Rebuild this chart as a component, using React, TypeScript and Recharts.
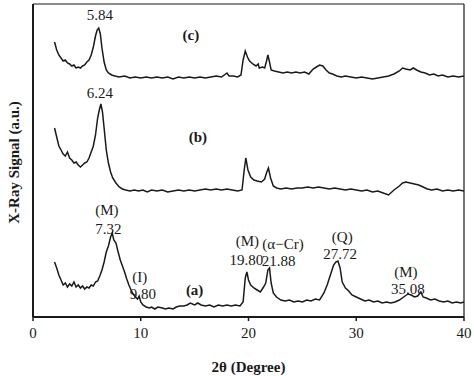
import { LineChart, Line, XAxis, YAxis, ReferenceDot, ReferenceLine, Label } from "recharts";

// 2θ (deg), signal (a.u.)
const traceA: [number, number][] = [
  [2.0, 55], [2.2, 49], [2.4, 42], [2.6, 37], [2.8, 32], [3.0, 34], [3.2, 30], [3.4, 33], [3.6, 31], [3.8, 35],
  [4.0, 30], [4.2, 32], [4.4, 29], [4.6, 31], [4.8, 28], [5.0, 30], [5.2, 29], [5.4, 32], [5.6, 31], [5.8, 35],
  [6.0, 36], [6.2, 41], [6.4, 47], [6.6, 55], [6.8, 65], [7.0, 71], [7.2, 80], [7.35, 84], [7.5, 77], [7.7, 74],
  [7.9, 65], [8.1, 57], [8.3, 51], [8.5, 45], [8.7, 38], [8.9, 32], [9.1, 27], [9.3, 23], [9.5, 20], [9.7, 18],
  [9.85, 21], [10.0, 15], [10.2, 12], [10.5, 10], [10.8, 9], [11.0, 10], [11.3, 8], [11.6, 10], [12.0, 9], [12.3, 8],
  [12.6, 9], [13.0, 8], [13.3, 10], [13.6, 11], [14.0, 11], [14.3, 12], [14.6, 14], [15.0, 12], [15.3, 14], [15.6, 12],
  [16.0, 11], [16.4, 12], [16.8, 10], [17.2, 12], [17.6, 11], [18.0, 12], [18.4, 11], [18.8, 12], [19.2, 11], [19.5, 15],
  [19.7, 39], [19.85, 45], [20.0, 37], [20.2, 32], [20.5, 29], [20.8, 27], [21.1, 25], [21.4, 30], [21.6, 34], [21.8, 47],
  [21.95, 49], [22.1, 34], [22.3, 24], [22.6, 20], [23.0, 17], [23.4, 16], [23.8, 17], [24.2, 15], [24.6, 16], [25.0, 15],
  [25.4, 17], [25.8, 16], [26.2, 18], [26.6, 17], [27.0, 24], [27.3, 32], [27.6, 42], [27.9, 52], [28.1, 55], [28.3, 56],
  [28.5, 49], [28.7, 35], [29.0, 29], [29.3, 26], [29.6, 22], [30.0, 20], [30.4, 18], [30.8, 16], [31.2, 17], [31.6, 15],
  [32.0, 16], [32.4, 14], [32.8, 15], [33.2, 14], [33.6, 15], [34.0, 17], [34.4, 20], [34.8, 23], [35.1, 22], [35.4, 20],
  [35.7, 21], [36.0, 25], [36.2, 20], [36.5, 19], [36.9, 17], [37.3, 18], [37.7, 16], [38.1, 15], [38.5, 16], [38.9, 14],
  [39.3, 15], [39.7, 14], [40.0, 15],
];

const traceB: [number, number][] = [
  [2.0, 189], [2.2, 180], [2.4, 171], [2.6, 167], [2.8, 163], [3.0, 161], [3.2, 165], [3.4, 159], [3.6, 157], [3.8, 154],
  [4.0, 155], [4.2, 152], [4.4, 150], [4.6, 152], [4.8, 154], [5.0, 155], [5.2, 159], [5.4, 165], [5.6, 171], [5.8, 182],
  [6.0, 199], [6.15, 207], [6.3, 213], [6.45, 205], [6.6, 189], [6.8, 167], [7.0, 154], [7.2, 145], [7.4, 139], [7.7, 134],
  [8.0, 130], [8.3, 128], [8.6, 127], [9.0, 126], [9.4, 127], [9.8, 126], [10.2, 127], [10.6, 125], [11.0, 127], [11.5, 126],
  [12.0, 127], [12.5, 125], [13.0, 126], [13.5, 127], [14.0, 126], [14.5, 127], [15.0, 126], [15.5, 127], [16.0, 128], [16.5, 127],
  [17.0, 128], [17.5, 127], [18.0, 128], [18.5, 127], [19.0, 126], [19.4, 127], [19.6, 147], [19.75, 159], [19.95, 147], [20.2, 140],
  [20.5, 137], [20.8, 136], [21.2, 135], [21.5, 138], [21.7, 145], [21.85, 149], [22.05, 139], [22.3, 131], [22.6, 129], [23.0, 128],
  [23.5, 129], [24.0, 128], [24.5, 129], [25.0, 129], [25.5, 130], [26.0, 129], [26.5, 130], [27.0, 129], [27.5, 128], [28.0, 129],
  [28.5, 128], [29.0, 127], [29.5, 128], [30.0, 127], [30.5, 126], [31.0, 127], [31.5, 125], [32.0, 126], [32.5, 124], [33.0, 122],
  [33.5, 127], [34.0, 131], [34.3, 134], [34.6, 135], [35.0, 134], [35.4, 133], [35.8, 132], [36.2, 130], [36.6, 128], [37.0, 127],
  [37.5, 128], [38.0, 126], [38.5, 127], [39.0, 126], [39.5, 127], [40.0, 126],
];

const traceC: [number, number][] = [
  [2.0, 275], [2.2, 267], [2.4, 262], [2.6, 259], [2.8, 256], [3.0, 257], [3.2, 254], [3.4, 253], [3.6, 251], [3.8, 252],
  [4.0, 249], [4.2, 250], [4.4, 249], [4.6, 251], [4.8, 252], [5.0, 255], [5.2, 257], [5.4, 262], [5.6, 270], [5.8, 281],
  [5.95, 287], [6.1, 289], [6.25, 283], [6.4, 269], [6.6, 255], [6.8, 247], [7.0, 244], [7.3, 242], [7.6, 241], [8.0, 240],
  [8.5, 241], [9.0, 239], [9.5, 240], [10.0, 239], [10.5, 240], [11.0, 239], [11.5, 240], [12.0, 239], [12.5, 240], [13.0, 238],
  [13.5, 240], [14.0, 239], [14.5, 240], [15.0, 239], [15.5, 240], [16.0, 239], [16.5, 240], [17.0, 241], [17.5, 240], [18.0, 244],
  [18.2, 241], [18.6, 241], [19.0, 240], [19.3, 242], [19.5, 257], [19.7, 266], [19.9, 260], [20.1, 256], [20.4, 253], [20.7, 251],
  [20.9, 253], [21.0, 249], [21.3, 250], [21.5, 249], [21.65, 255], [21.8, 262], [21.95, 255], [22.1, 247], [22.4, 246], [22.8, 245],
  [23.2, 244], [23.6, 245], [24.0, 244], [24.4, 245], [24.8, 244], [25.2, 245], [25.6, 243], [26.0, 248], [26.3, 250], [26.6, 252],
  [26.9, 251], [27.2, 247], [27.5, 244], [27.8, 243], [28.2, 241], [28.6, 240], [29.0, 241], [29.5, 240], [30.0, 239], [30.5, 240],
  [31.0, 239], [31.5, 238], [32.0, 239], [32.5, 240], [33.0, 241], [33.5, 243], [34.0, 246], [34.3, 249], [34.6, 248], [35.0, 247],
  [35.3, 249], [35.6, 247], [36.0, 245], [36.4, 244], [36.8, 242], [37.2, 243], [37.6, 241], [38.0, 242], [38.5, 240], [39.0, 241],
  [39.5, 240], [40.0, 241],
];

const xTicks = [0, 10, 20, 30, 40];

// peak annotations: [2θ, signal, text, bold]
const notes: [number, number, string, boolean][] = [
  [6.2, 302, "5.84", false],
  [14.65, 282, "(c)", true],
  [6.2, 224, "6.24", false],
  [15.3, 180, "(b)", true],
  [6.86, 107, "(M)", false],
  [7.0, 88, "7.32", false],
  [9.9, 40, "(I)", false],
  [10.2, 23, "9.80", false],
  [15.0, 27, "(a)", true],
  [19.9, 76, "(M)", false],
  [19.8, 57, "19.80", false],
  [23.2, 73, "(α−Cr)", false],
  [22.8, 56, "21.88", false],
  [28.7, 80, "(Q)", false],
  [28.5, 63, "27.72", false],
  [34.6, 45, "(M)", false],
  [34.8, 28, "35.08", false],
];

const serif = "'Liberation Serif', 'Times New Roman', serif";
const ink = "#1a1a1a";

const toPts = (t: [number, number][]) => t.map(([x, y]) => ({ x, y }));

function noteLabel(text: string, bold: boolean) {
  return (props: any) => {
    const vb = props.viewBox || {};
    const cx = vb.x + (vb.width || 0) / 2;
    const cy = vb.y + (vb.height || 0) / 2;
    return (
      <text
        x={cx}
        y={cy}
        dy="0.35em"
        textAnchor="middle"
        fontFamily={serif}
        fontSize={15}
        fontWeight={bold ? "bold" : "normal"}
        fill={ink}
      >
        {text}
      </text>
    );
  };
}

export default function App() {
  return (
    <div style={{ position: "absolute", left: 0, top: 0, background: "#fff" }}>
      <LineChart width={474} height={376} margin={{ top: 4, right: 10, left: 0, bottom: 0 }}>
        <XAxis
          dataKey="x"
          type="number"
          domain={[0, 40]}
          ticks={xTicks}
          height={59}
          axisLine={{ stroke: ink, strokeWidth: 2 }}
          tickLine={{ stroke: ink, strokeWidth: 1.5 }}
          tickSize={4}
          tickMargin={6}
          tick={{ fill: ink, fontSize: 15, fontFamily: serif }}
          allowDataOverflow
        >
          <Label
            value="2θ (Degree)"
            position="insideBottom"
            offset={4}
            fill={ink}
            fontSize={15}
            fontWeight="bold"
            fontFamily={serif}
          />
        </XAxis>
        <YAxis
          type="number"
          domain={[0, 313]}
          width={33}
          tick={false}
          tickLine={false}
          axisLine={{ stroke: ink, strokeWidth: 2 }}
          allowDataOverflow
        >
          <Label
            content={(p: any) => {
              const vb = p.viewBox;
              const x = vb.x + 14;
              const y = vb.y + vb.height / 2 + 2;
              return (
                <text
                  x={x}
                  y={y}
                  transform={`rotate(-90 ${x} ${y})`}
                  textAnchor="middle"
                  dy="0.35em"
                  fontFamily={serif}
                  fontSize={15}
                  fontWeight="bold"
                  fill={ink}
                >
                  X-Ray Signal (a.u.)
                </text>
              );
            }}
          />
        </YAxis>
        {/* frame: top and right edges */}
        <ReferenceLine y={313} stroke={ink} strokeWidth={1} />
        <ReferenceLine x={40} stroke={ink} strokeWidth={1.2} />
        <Line data={toPts(traceA)} dataKey="y" type="linear" stroke={ink} strokeWidth={1.5} dot={false} isAnimationActive={false} />
        <Line data={toPts(traceB)} dataKey="y" type="linear" stroke={ink} strokeWidth={1.5} dot={false} isAnimationActive={false} />
        <Line data={toPts(traceC)} dataKey="y" type="linear" stroke={ink} strokeWidth={1.5} dot={false} isAnimationActive={false} />
        {notes.map(([x, y, text, bold], i) => (
          <ReferenceDot
            key={i}
            x={x}
            y={y}
            r={1}
            fill="none"
            stroke="none"
            ifOverflow="visible"
            label={noteLabel(text, bold)}
          />
        ))}
      </LineChart>
    </div>
  );
}
